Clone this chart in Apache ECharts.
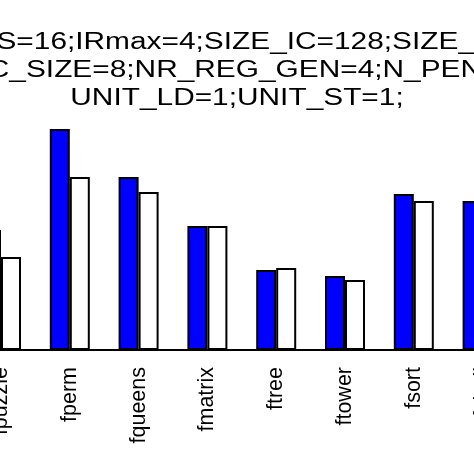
<!DOCTYPE html>
<html>
<head>
<meta charset="utf-8">
<script src="https://cdn.jsdelivr.net/npm/echarts@6/dist/echarts.min.js"></script>
<style>
html,body{margin:0;padding:0;overflow:hidden;background:#fff;}
#c{width:474px;height:474px;}
</style>
</head>
<body>
<div id="c"></div>
<script>
// Data
var categories = ['fpuzzle','fperm','fqueens','fmatrix','ftree','ftower','fsort','fshell'];
var seriesBlue  = [1.20, 2.21, 1.73, 1.24, 0.80, 0.74, 1.56, 1.49];
var seriesWhite = [0.93, 1.73, 1.58, 1.24, 0.82, 0.70, 1.49, 1.40];
var titleLines = [
  'NR_PES=16;IRmax=4;SIZE_IC=128;SIZE_DC=64;',
  'BLOC_SIZE=8;NR_REG_GEN=4;N_PEND=4;',
  'UNIT_LD=1;UNIT_ST=1;'
];

var chart = echarts.init(document.getElementById('c'), null, {renderer:'canvas'});
var font = 'Liberation Sans, Arial, sans-serif';
chart.setOption({
  animation:false,
  backgroundColor:'#fff',
  graphic:[{
    type:'text',
    x:237, y:29,
    scaleX:1.27,
    silent:true,
    style:{
      text: titleLines.join('\n'),
      textAlign:'center',
      textVerticalAlign:'top',
      fontFamily:font, fontSize:23.5, lineHeight:28,
      fill:'#000'
    }
  }],
  grid:{left:-33.4,right:-43,top:100,bottom:124,containLabel:false,outerBoundsMode:'none'},
  xAxis:{
    type:'category',
    data:categories,
    axisLine:{lineStyle:{color:'#000',width:2}},
    axisTick:{alignWithLabel:true,length:5,lineStyle:{color:'#000',width:2}},
    axisLabel:{rotate:90,margin:17,fontFamily:font,fontSize:21.5,color:'#000',interval:0}
  },
  yAxis:{
    type:'value',min:0,max:2.5,
    show:false
  },
  series:[
    {type:'bar',data:seriesBlue,barWidth:20,barGap:'0%',
     itemStyle:{color:'#0000ff',borderColor:'#000',borderWidth:2}},
    {type:'bar',data:seriesWhite,barWidth:20,barGap:'0%',
     itemStyle:{color:'#ffffff',borderColor:'#000',borderWidth:2}}
  ]
});
</script>
</body>
</html>
